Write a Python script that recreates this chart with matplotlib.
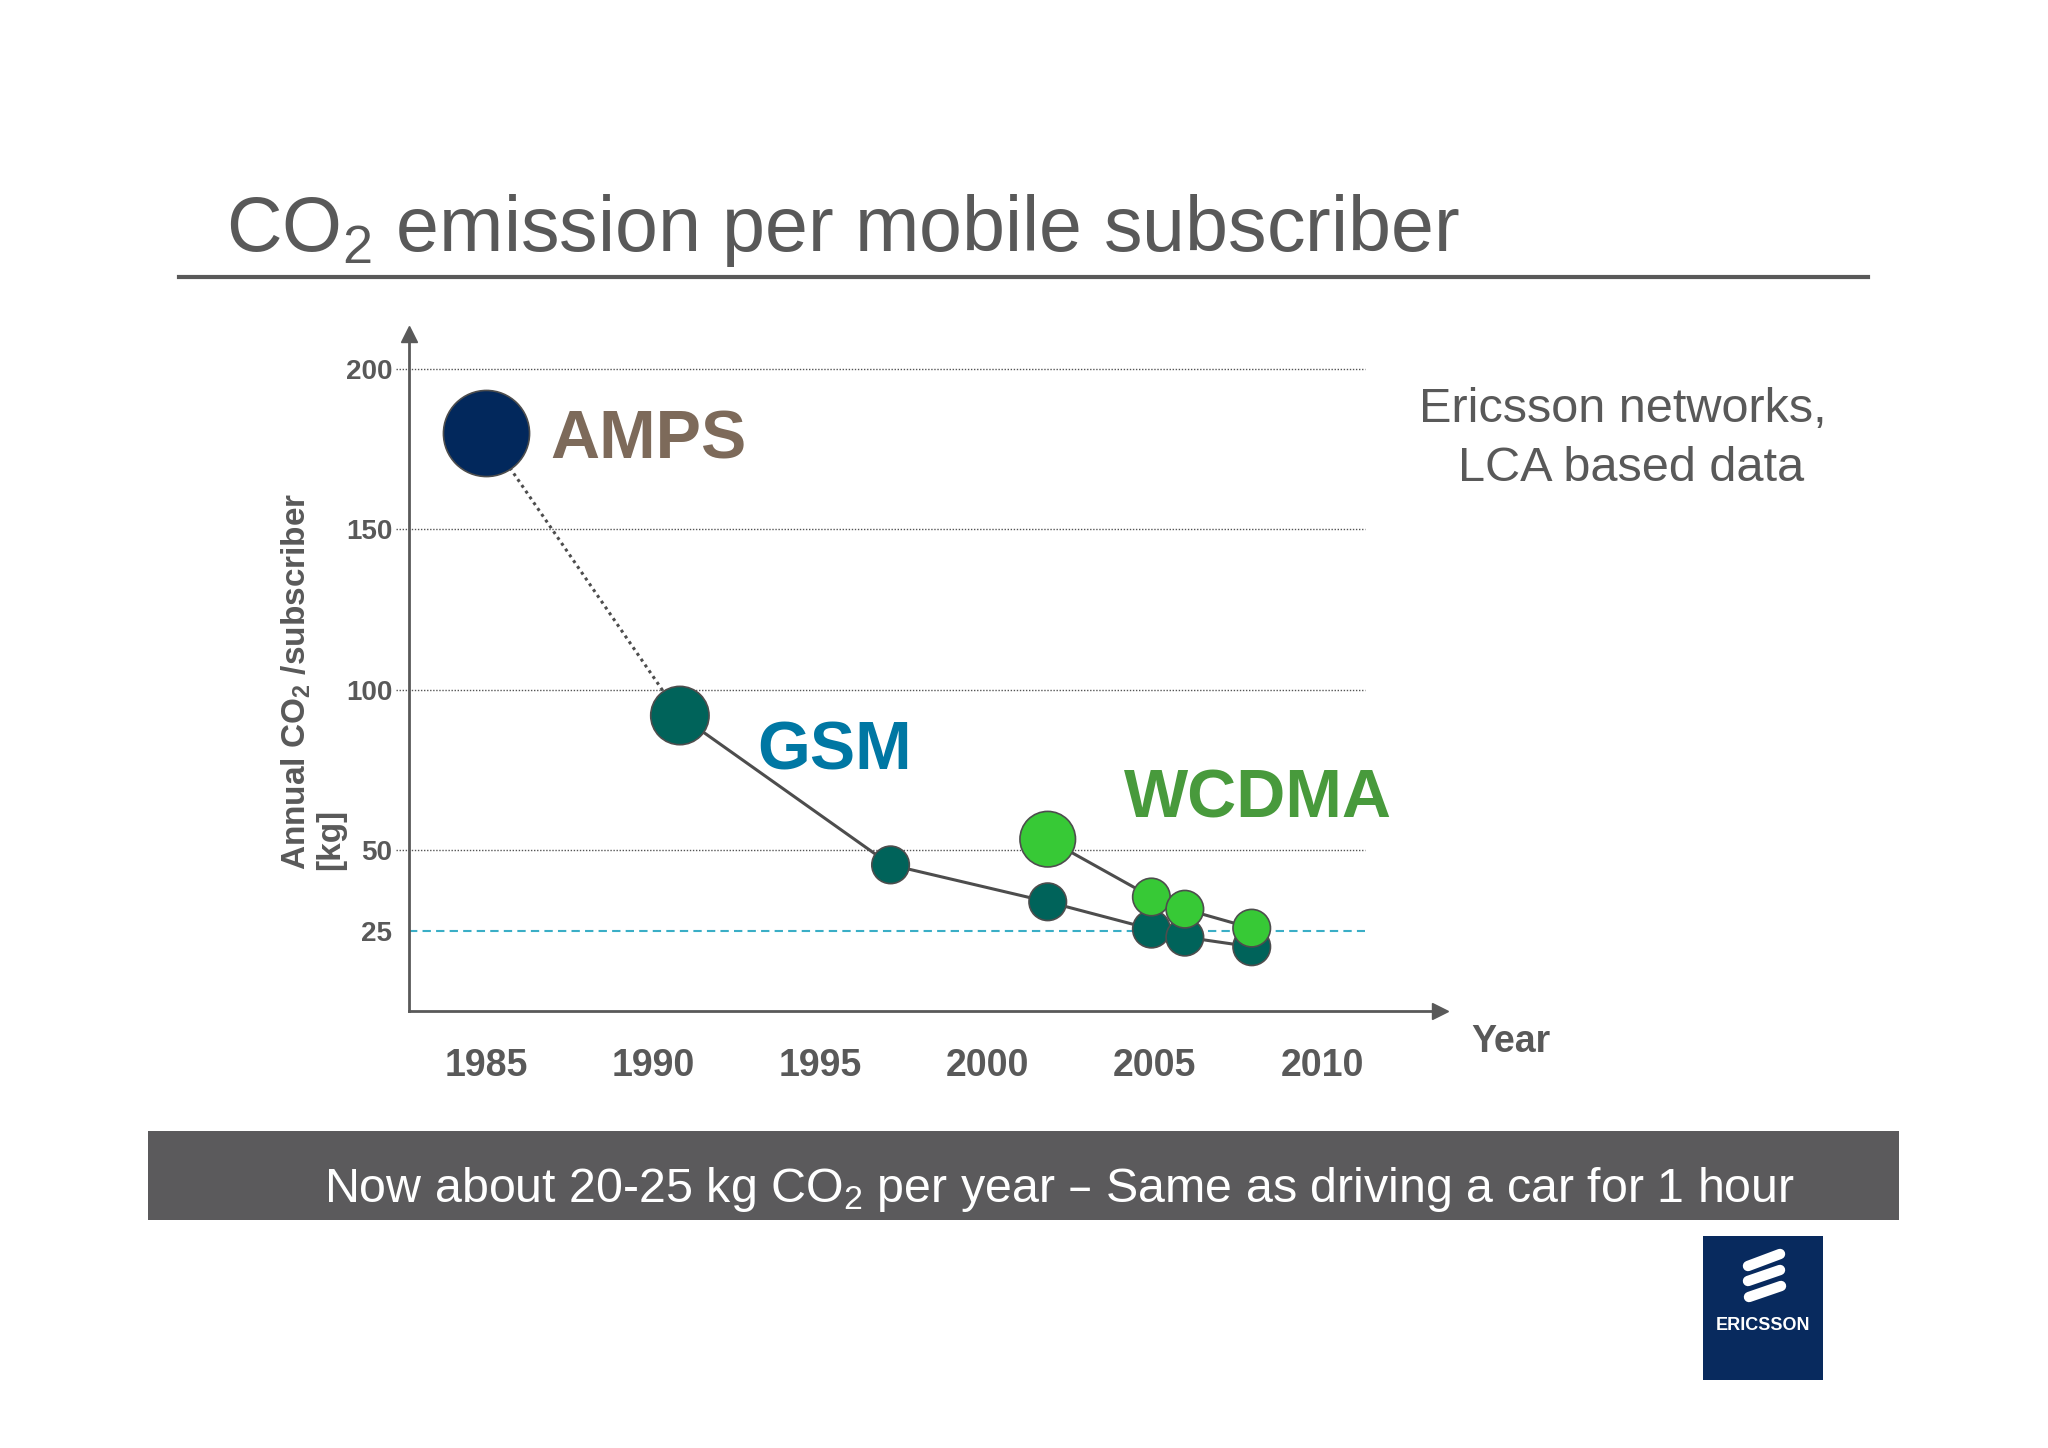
import matplotlib
matplotlib.use('Agg')
import matplotlib.pyplot as plt
from matplotlib.patches import Rectangle
from matplotlib.lines import Line2D

plt.rcParams['font.family'] = ['Liberation Sans', 'DejaVu Sans']
plt.rcParams['mathtext.default'] = 'regular'

# data
amps_year = [1985]
amps_co2 = [180]
gsm_year = [1990.8, 1997.1, 2001.8, 2004.9, 2005.9, 2007.9]
gsm_co2 = [92, 45.5, 34, 25.5, 23, 20]
wcdma_year = [2001.8, 2004.9, 2005.9, 2007.9]
wcdma_co2 = [53.5, 35.5, 31.7, 25.8]
year_ticks = [1985, 1990, 1995, 2000, 2005, 2010]
co2_ticks = [25, 50, 100, 150, 200]
grid_levels = [50, 100, 150, 200]
target_level = 25

# marker diameters (points)
amps_size = [62]
gsm_size = [42, 27, 27, 27, 27, 27]
wcdma_size = [40, 27, 27, 27]

GREY = '#595959'
LINE = '#4d4d4d'
W, H = 2048, 1448


def fx(px):
    return px / W


def fy(py):
    return 1 - py / H


fig = plt.figure(figsize=(20.48, 14.48), dpi=100)
fig.patch.set_facecolor('white')

# title and rule
fig.text(fx(226), fy(251), 'CO$_2$ emission per mobile subscriber', fontsize=55.5,
         color=GREY, ha='left', va='baseline')
fig.add_artist(Line2D([fx(179), fx(1868)], [fy(277), fy(277)], color=GREY, lw=3))

# main axes
ax = fig.add_axes([fx(409), fy(1011), fx(1440) - fx(409), fy(334) - fy(1011)])
ax.set_xlim(1982.7, 2013.53)
ax.set_ylim(0, 210.8)
ax.patch.set_alpha(0)
for s in ['top', 'right']:
    ax.spines[s].set_visible(False)
for s in ['left', 'bottom']:
    ax.spines[s].set_color(GREY)
    ax.spines[s].set_linewidth(2)
ax.plot(1, 0, '>', color=GREY, ms=11, transform=ax.transAxes, clip_on=False)
ax.plot(0, 1, '^', color=GREY, ms=11, transform=ax.transAxes, clip_on=False)

for lev in grid_levels:
    ax.plot([1982.3, 2011.3], [lev, lev], color='#555555', lw=1,
            ls=(0, (1, 1.2)), clip_on=False, zorder=1)
ax.plot([1982.7, 2011.3], [target_level, target_level], color='#3aaec6', lw=1.5,
        ls=(0, (4, 2.5)), zorder=1)

ax.set_xticks(year_ticks)
ax.set_xticklabels([str(y) for y in year_ticks])
ax.set_yticks(co2_ticks)
ax.set_yticklabels([str(v) for v in co2_ticks])
ax.tick_params(axis='x', length=0, pad=27, labelsize=27, labelcolor=GREY)
ax.tick_params(axis='y', length=0, pad=12, labelsize=20, labelcolor=GREY)
for lab in ax.get_xticklabels() + ax.get_yticklabels():
    lab.set_fontweight('bold')

# lines
ax.plot([amps_year[0], gsm_year[0]], [amps_co2[0], gsm_co2[0]], color=LINE, lw=2.2,
        ls=(0, (1, 1.3)), zorder=2)
ax.plot(gsm_year, gsm_co2, color=LINE, lw=2.2, zorder=2)
ax.scatter(gsm_year, gsm_co2, s=[d ** 2 for d in gsm_size], color='#00635a',
           edgecolor=LINE, linewidth=1.2, zorder=3)
ax.plot(wcdma_year, wcdma_co2, color=LINE, lw=2.2, zorder=4)
ax.scatter(wcdma_year, wcdma_co2, s=[d ** 2 for d in wcdma_size], color='#37c936',
           edgecolor=LINE, linewidth=1.2, zorder=5)
ax.scatter(amps_year, amps_co2, s=[d ** 2 for d in amps_size], color='#02285c',
           edgecolor=LINE, linewidth=1.2, zorder=5)

# series labels
fig.text(fx(550), fy(458), 'AMPS', fontsize=49, fontweight='bold', color='#7d6a5a',
         va='baseline')
fig.text(fx(757), fy(769), 'GSM', fontsize=49, fontweight='bold', color='#0077a3',
         va='baseline')
fig.text(fx(1124), fy(818), 'WCDMA', fontsize=49, fontweight='bold', color='#489a3c',
         va='baseline')

fig.text(fx(1623), fy(422), 'Ericsson networks,', fontsize=35, color=GREY,
         ha='center', va='baseline')
fig.text(fx(1631), fy(481), 'LCA based data', fontsize=35, color=GREY,
         ha='center', va='baseline')

# axis titles
fig.text(fx(296), fy(870), 'Annual CO$_2$ /subscriber', fontsize=24,
         fontweight='bold', color=GREY, rotation=90, ha='center', va='bottom')
fig.text(fx(331), fy(870), '[kg]', fontsize=24,
         fontweight='bold', color=GREY, rotation=90, ha='center', va='bottom')
fig.text(fx(1511), fy(1042), 'Year', fontsize=27, fontweight='bold', color=GREY,
         ha='center', va='center')

# bottom banner
fig.add_artist(Rectangle((fx(148), fy(1220)), fx(1899) - fx(148), fy(1131) - fy(1220),
                         transform=fig.transFigure, facecolor='#5b5a5c', edgecolor='none'))
fig.text(fx(324), fy(1202), 'Now about 20-25 kg CO$_2$ per year \u2013 Same as driving a car for 1 hour',
         fontsize=34.8, color='white', ha='left', va='baseline')

# logo
fig.add_artist(Rectangle((fx(1703), fy(1380)), fx(1823) - fx(1703), fy(1236) - fy(1380),
                         transform=fig.transFigure, facecolor='#082a5e', edgecolor='none'))
for (x0, y0, x1, y1) in [(1748, 1266, 1780, 1254), (1748, 1281, 1780, 1270),
                         (1749, 1297, 1781, 1286)]:
    fig.add_artist(Line2D([fx(x0), fx(x1)], [fy(y0), fy(y1)], color='white', lw=7.5,
                          solid_capstyle='round'))
fig.text(fx(1763), fy(1325), 'ERICSSON', fontsize=13, fontweight='bold', color='white',
         ha='center', va='center')

fig.savefig('out.png', dpi=100)
